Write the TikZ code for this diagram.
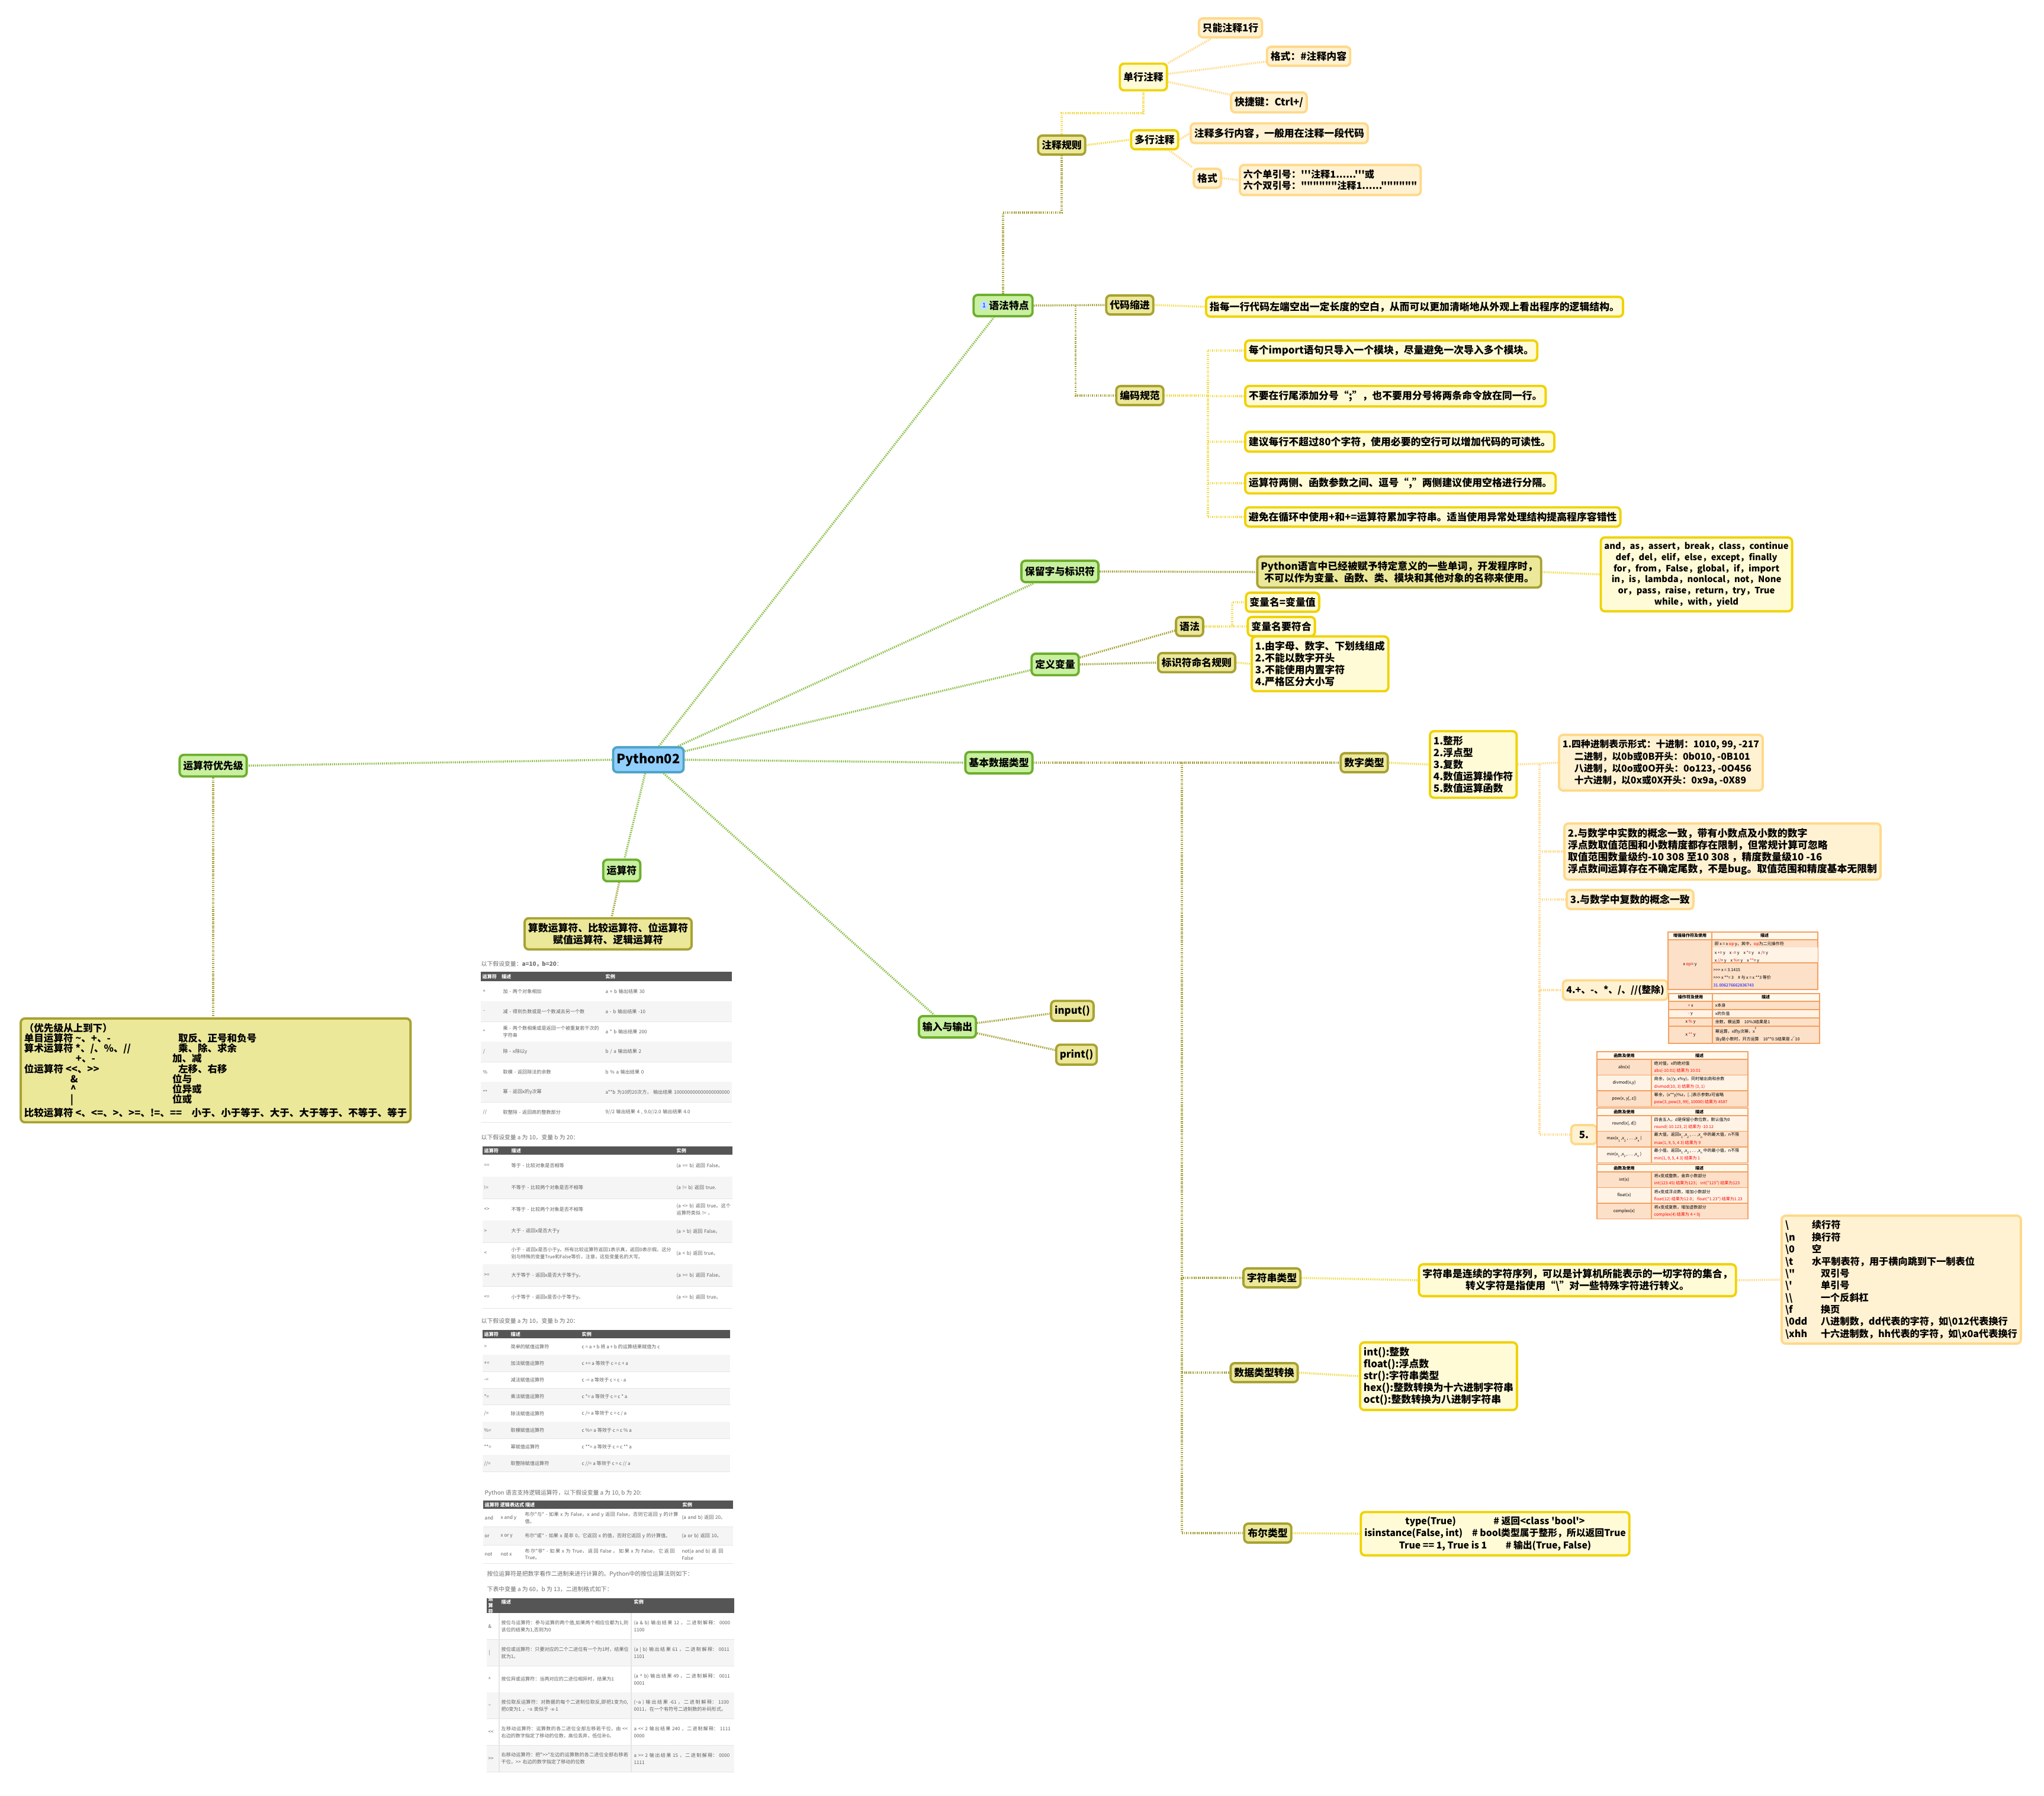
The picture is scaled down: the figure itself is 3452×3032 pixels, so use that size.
\documentclass[tikz,border=0pt]{standalone}
\usepackage{fontspec}
\setmainfont{Noto Sans CJK SC}[Ligatures=TeXOff]
\XeTeXlinebreaklocale "zh"
\XeTeXlinebreakskip=0pt plus 1pt
\usetikzlibrary{calc}

\definecolor{rootfill}{HTML}{90CFFF}
\definecolor{rootline}{HTML}{4FA3C8}
\definecolor{mainfill}{HTML}{C8F0A0}
\definecolor{mainline}{HTML}{6EAE2E}
\definecolor{subfill}{HTML}{EBE89A}
\definecolor{subline}{HTML}{A8A232}
\definecolor{leaffill}{HTML}{FFFBD6}
\definecolor{leafline}{HTML}{F0D200}
\definecolor{notefill}{HTML}{FFF2D2}
\definecolor{noteline}{HTML}{FFD98A}
\definecolor{lnmain}{HTML}{8CC04A}
\definecolor{lnsub}{HTML}{A6A33A}
\definecolor{lnleaf}{HTML}{F2DC50}
\definecolor{lnnote}{HTML}{FFD98A}
\definecolor{headgray}{HTML}{555555}
\definecolor{ogrid}{HTML}{F5A060}
\definecolor{ohead}{HTML}{FFF8EC}
\definecolor{orow}{HTML}{FDE0C8}
\definecolor{orowlight}{HTML}{FFF3E6}

\tikzset{
  base/.style={rounded corners=2pt, line width=1.1pt, inner xsep=0.06cm, inner ysep=0.08cm,
    font=\fontsize{4.8}{5.7}\selectfont\bfseries},
  rootnode/.style={base, draw=rootline, fill=rootfill, font=\fontsize{6.2}{7}\selectfont\bfseries, inner ysep=0.1cm},
  mainnode/.style={base, draw=mainline, fill=mainfill, inner ysep=0.1cm},
  subnode/.style={base, draw=subline, fill=subfill},
  leafnode/.style={base, draw=leafline, fill=leaffill},
  notenode/.style={base, draw=noteline, fill=notefill},
  mainlink/.style={draw=lnmain, line width=1pt, dash pattern=on 0.5pt off 0.5pt},
  sublink/.style={draw=lnsub, line width=1pt, dash pattern=on 0.5pt off 0.5pt},
  leaflink/.style={draw=lnleaf, line width=1pt, dash pattern=on 0.5pt off 0.5pt},
  notelink/.style={draw=lnnote, line width=1pt, dash pattern=on 0.5pt off 0.5pt},
  capnode/.style={inner sep=0pt, anchor=west, text=gray!85!black, font=\fontsize{2.8}{3.4}\selectfont},
  cell/.style={inner sep=0pt, anchor=west, align=left, text=gray!75!black, font=\fontsize{2.3}{3.4}\selectfont},
  headcell/.style={cell, text=white, font=\fontsize{2.3}{3}\selectfont\bfseries},
  ocell/.style={inner sep=0pt, font=\fontsize{2}{2.6}\selectfont},
}

\begin{document}
\begin{tikzpicture}[x=0.01cm, y=-0.01cm]
\useasboundingbox[fill=white] (0,0) rectangle (3452,3032);

% root and first level
\node[rootnode] (py) at (1095,1283) {Python02};
\node[mainnode] (prio) at (360,1293) {运算符优先级};
\node[mainnode] (ops) at (1050,1470) {运算符};
\node[mainnode] (syn) at (1694,516) {\hspace{0.2cm}语法特点};
\node[circle, fill=rootfill!60, inner sep=0.6pt, font=\fontsize{3}{3}\selectfont, text=blue] (synicon) at (1662,516) {1};
\node[mainnode] (kw) at (1790,965) {保留字与标识符};
\node[mainnode] (var) at (1782,1122) {定义变量};
\node[mainnode] (basic) at (1687,1288) {基本数据类型};
\node[mainnode] (io) at (1600,1734) {输入与输出};

% operator precedence
\node[subnode, align=left, anchor=north west, font=\fontsize{4.7}{4.9}\selectfont\bfseries] (priobox) at (33,1718) {%
（优先级从上到下）\\
\makebox[2.6cm][l]{单目运算符 \textasciitilde、+、-}取反、正号和负号\\
\makebox[2.6cm][l]{算术运算符 *、/、\%、//}乘、除、求余\\
\makebox[2.5cm][l]{\hspace{0.87cm}+、-}加、减\\
\makebox[2.6cm][l]{位运算符 <<、>>}左移、右移\\
\makebox[2.5cm][l]{\hspace{0.78cm}\&}位与\\
\makebox[2.5cm][l]{\hspace{0.78cm}\textasciicircum}位异或\\
\makebox[2.5cm][l]{\hspace{0.78cm}|}位或\\
比较运算符 <、<=、>、>=、!=、==\quad 小于、小于等于、大于、大于等于、不等于、等于};
\node[subnode, align=center] (opsbox) at (1027,1577) {算数运算符、比较运算符、位运算符\\赋值运算符、逻辑运算符};

% syntax features
\node[subnode] (cmt) at (1793,245) {注释规则};
\node[leafnode, minimum height=0.45cm] (single) at (1931,130) {单行注释};
\node[notenode] (only1) at (2078,47) {只能注释1行};
\node[notenode] (fmt1) at (2210,95) {格式：\#注释内容};
\node[notenode] (key) at (2143,173) {快捷键：Ctrl+/};
\node[leafnode] (multi) at (1950,236) {多行注释};
\node[notenode, anchor=west] (multitxt) at (2009,225) {注释多行内容，一般用在注释一段代码};
\node[notenode] (fmt2) at (2039,301) {格式};
\node[notenode, align=left, anchor=west, font=\fontsize{4.6}{5.5}\selectfont\bfseries] (quotes) at (2092,304) {六个单引号：'''注释1......'''或\\六个双引号：""""""注释1......""""""};
\node[subnode] (indent) at (1908,515) {代码缩进};
\node[leafnode, anchor=west] (indenttxt) at (2035,518) {指每一行代码左端空出一定长度的空白，从而可以更加清晰地从外观上看出程序的逻辑结构。};
\node[subnode] (style) at (1925,668) {编码规范};
\node[leafnode, anchor=west] (r1) at (2101,592) {每个import语句只导入一个模块，尽量避免一次导入多个模块。};
\node[leafnode, anchor=west] (r2) at (2101,669) {不要在行尾添加分号“;”，也不要用分号将两条命令放在同一行。};
\node[leafnode, anchor=west] (r3) at (2101,746) {建议每行不超过80个字符，使用必要的空行可以增加代码的可读性。};
\node[leafnode, anchor=west] (r4) at (2101,816) {运算符两侧、函数参数之间、逗号“,”两侧建议使用空格进行分隔。};
\node[leafnode, anchor=west] (r5) at (2101,873) {避免在循环中使用+和+=运算符累加字符串。适当使用异常处理结构提高程序容错性};

% keywords and variables
\node[subnode, align=center] (kwdef) at (2363,966) {Python语言中已经被赋予特定意义的一些单词，开发程序时，\\不可以作为变量、函数、类、模块和其他对象的名称来使用。};
\node[leafnode, align=center, font=\fontsize{4.2}{5.3}\selectfont\bfseries] (kwlist) at (2865,970) {and，as，assert，break，class，continue\\def，del，elif，else，except，finally\\for，from，False，global，if，import\\in，is，lambda，nonlocal，not，None\\or，pass，raise，return，try，True\\while，with，yield};
\node[subnode] (gram) at (2009,1058) {语法};
\node[leafnode] (vv) at (2166,1017) {变量名=变量值};
\node[leafnode] (vname) at (2164,1058) {变量名要符合};
\node[subnode] (idrule) at (2021,1119) {标识符命名规则};
\node[leafnode, align=left, anchor=west, minimum width=2.27cm, minimum height=0.82cm] (idlist) at (2112,1121) {1.由字母、数字、下划线组成\\2.不能以数字开头\\3.不能使用内置字符\\4.严格区分大小写};

% basic data types
\node[subnode] (num) at (2304,1288) {数字类型};
\node[leafnode, align=left, anchor=west, minimum width=1.46cm] (numlist) at (2413,1291) {1.整形\\2.浮点型\\3.复数\\4.数值运算操作符\\5.数值运算函数};
\node[notenode, align=left, anchor=west, minimum height=0.94cm, font=\fontsize{4.5}{5.7}\selectfont\bfseries] (n1) at (2631,1288) {1.四种进制表示形式：十进制：1010, 99, -217\\\hspace{0.2cm}二进制，以0b或0B开头：0b010, -0B101\\\hspace{0.2cm}八进制，以0o或0O开头：0o123, -0O456\\\hspace{0.2cm}十六进制，以0x或0X开头：0x9a, -0X89};
\node[notenode, align=left, anchor=west] (n2) at (2640,1438) {2.与数学中实数的概念一致，带有小数点及小数的数字\\浮点数取值范围和小数精度都存在限制，但常规计算可忽略\\取值范围数量级约-10 308 至10 308 ，精度数量级10 -16\\浮点数间运算存在不确定尾数，不是bug。取值范围和精度基本无限制};
\node[notenode, anchor=west] (n3) at (2644,1519) {3.与数学中复数的概念一致};
\node[notenode, minimum height=0.32cm, font=\fontsize{4.5}{5.7}\selectfont\bfseries] (n4) at (2728,1672) {4.+、-、*、/、//(整除)};
\node[notenode, minimum width=0.43cm, minimum height=0.32cm] (n5) at (2675,1916) {5.};
\node[subnode] (str) at (2148,2158) {字符串类型};
\node[leafnode, align=center] (strtxt) at (2664,2162) {字符串是连续的字符序列，可以是计算机所能表示的一切字符的集合，\\转义字符是指使用“\textbackslash”对一些特殊字符进行转义。};
\node[notenode, align=left, anchor=west, font=\fontsize{4.6}{4.6}\selectfont\bfseries, minimum height=1.87cm] (esc) at (3007,2161) {%
\makebox[0.45cm][l]{\textbackslash}续行符\\
\makebox[0.45cm][l]{\textbackslash n}换行符\\
\makebox[0.45cm][l]{\textbackslash 0}空\\
\makebox[0.45cm][l]{\textbackslash t}水平制表符，用于横向跳到下一制表位\\
\makebox[0.6cm][l]{\textbackslash "}双引号\\
\makebox[0.6cm][l]{\textbackslash '}单引号\\
\makebox[0.6cm][l]{\textbackslash\textbackslash}一个反斜杠\\
\makebox[0.6cm][l]{\textbackslash f}换页\\
\makebox[0.6cm][l]{\textbackslash 0dd}八进制数，dd代表的字符，如\textbackslash 012代表换行\\
\makebox[0.6cm][l]{\textbackslash xhh}十六进制数，hh代表的字符，如\textbackslash x0a代表换行};
\node[subnode] (conv) at (2135,2318) {数据类型转换};
\node[leafnode, align=left, anchor=west, minimum width=2.53cm] (convlist) at (2295,2324) {int():整数\\float():浮点数\\str():字符串类型\\hex():整数转换为十六进制字符串\\oct():整数转换为八进制字符串};
\node[subnode] (bool) at (2141,2589) {布尔类型};
\node[leafnode, align=center, font=\fontsize{4.5}{5.7}\selectfont\bfseries] (booltxt) at (2525,2590) {type(True)\qquad\qquad \# 返回<class 'bool'>\\isinstance(False, int)\quad \# bool类型属于整形，所以返回True\\True == 1, True is 1\qquad \# 输出(True, False)};

% input and output
\node[subnode] (inp) at (1811,1707) {input()};
\node[subnode] (prt) at (1818,1781) {print()};

% connectors
\draw[mainlink] (py.west) -- (prio.east);
\draw[mainlink] (py) -- (syn);
\draw[mainlink] (py) -- (kw);
\draw[mainlink] (py) -- (var);
\draw[mainlink] (py.east) -- (basic.west);
\draw[mainlink] (py) -- (ops);
\draw[mainlink] (py) -- (io);
\draw[sublink] (prio) -- (prio |- priobox.north);
\draw[sublink] (ops) -- (opsbox);

\draw[sublink] (syn.north) -- ++(0,-137) -| (cmt.south);
\draw[leaflink] (cmt.north) -- ++(0,-36) -| (single.south);
\draw[notelink] (single) -- (only1);
\draw[notelink] (single) -- (fmt1);
\draw[notelink] (single) -- (key);
\draw[leaflink] (cmt.east) -- (multi.west);
\draw[notelink] (multi.east) -- (multitxt.west);
\draw[notelink] (multi) -- (fmt2);
\draw[notelink] (fmt2.east) -- (quotes.west);
\draw[sublink] (syn.east) -- (indent.west);
\draw[leaflink] (indent.east) -- (indenttxt.west);
\draw[sublink] ($(syn.east)+(71,0)$) |- (style.west);
\coordinate (stk) at (2040,668);
\draw[leaflink] (style.east) -- (stk);
\draw[leaflink] (stk |- r1.west) -- (stk |- r5.west);
\foreach \r in {r1,r2,r3,r4,r5}
  \draw[leaflink] (stk |- \r.west) -- (\r.west);

\draw[sublink] (kw.east) -- (kwdef.west);
\draw[leaflink] (kwdef.east) -- (kwlist.west);
\draw[sublink] (var) -- (gram);
\draw[sublink] (var.east) -- (idrule.west);
\draw[leaflink] (idrule.east) -- (idlist.west);
\draw[leaflink] (gram.east) -- (vname.west);
\draw[leaflink] ($(gram.east)+(47,0)$) |- (vv.west);

\draw[sublink] (basic.east) -- (num.west);
\coordinate (btk) at (1996,1288);
\foreach \b in {str,conv,bool}
  \draw[sublink] (btk) |- (\b.west);
\draw[leaflink] (num.east) -- (numlist.west);
\coordinate (ntk) at (2600,1291);
\draw[notelink] (numlist.east) -- (n1.west);
\foreach \n in {n2,n3,n4,n5}
  \draw[notelink] (ntk) |- (\n.west);
\draw[leaflink] (str.east) -- (strtxt.west);
\draw[notelink] (strtxt.east) -- (esc.west);
\draw[leaflink] (conv.east) -- (convlist.west);
\draw[leaflink] (bool.east) -- (booltxt.west);
\draw[sublink] (io) -- (inp);
\draw[sublink] (io) -- (prt);

% table: arithmetic operators
\node[capnode] (cap1) at (812,1628) {以下假设变量：\textbf{a=10，b=20}：};
\fill[headgray] (812,1641) rectangle (1236,1657);
\node[headcell] (h1a) at (814,1649) {运算符\quad 描述};
\node[headcell] (h1b) at (1022,1649) {实例};
\foreach \o/\d/\e [count=\i] in {{+}/{加 - 两个对象相加}/{a + b 输出结果 30},
  {-}/{减 - 得到负数或是一个数减去另一个数}/{a - b 输出结果 -10},
  {*}/{乘 - 两个数相乘或是返回一个被重复若干次的字符串}/{a * b 输出结果 200},
  {/}/{除 - x除以y}/{b / a 输出结果 2},
  {\%}/{取模 - 返回除法的余数}/{b \% a 输出结果 0},
  {**}/{幂 - 返回x的y次幂}/{a**b 为10的20次方， 输出结果 100000000000000000000},
  {//}/{取整除 - 返回商的整数部分}/{9//2 输出结果 4 , 9.0//2.0 输出结果 4.0}} {
  \pgfmathsetmacro\yy{1657+(\i-0.5)*34}
  \ifodd\i\else\fill[gray!8] (812,\yy-17) rectangle (1236,\yy+17);\fi
  \draw[gray!20, line width=0.3pt] (812,\yy+17) -- (1236,\yy+17);
  \node[cell] (t1o\i) at (815,\yy) {\o};
  \node[cell, text width=1.62cm] (t1d\i) at (849,\yy) {\d};
  \node[cell, text width=2.1cm] (t1e\i) at (1022,\yy) {\e};
}

% table: comparison operators
\node[capnode] (cap2) at (812,1921) {以下假设变量 a 为 10，变量 b 为 20：};
\fill[headgray] (815,1936) rectangle (1237,1950);
\node[headcell] (h2a) at (817,1943) {运算符};
\node[headcell] (h2b) at (863,1943) {描述};
\node[headcell] (h2c) at (1142,1943) {实例};
\foreach \o/\d/\e [count=\i] in {{==}/{等于 - 比较对象是否相等}/{(a == b) 返回 False。},
  {!=}/{不等于 - 比较两个对象是否不相等}/{(a != b) 返回 true.},
  {<>}/{不等于 - 比较两个对象是否不相等}/{(a <> b) 返回 true。这个运算符类似 != 。},
  {>}/{大于 - 返回x是否大于y}/{(a > b) 返回 False。},
  {<}/{小于 - 返回x是否小于y。所有比较运算符返回1表示真，返回0表示假。这分别与特殊的变量True和False等价。注意，这些变量名的大写。}/{(a < b) 返回 true。},
  {>=}/{大于等于 - 返回x是否大于等于y。}/{(a >= b) 返回 False。},
  {<=}/{小于等于 - 返回x是否小于等于y。}/{(a <= b) 返回 true。}} {
  \pgfmathsetmacro\yy{1950+(\i-0.5)*37}
  \ifodd\i\else\fill[gray!8] (815,\yy-18.5) rectangle (1237,\yy+18.5);\fi
  \draw[gray!20, line width=0.3pt] (815,\yy+18.5) -- (1237,\yy+18.5);
  \node[cell] (t2o\i) at (817,\yy) {\o};
  \node[cell, text width=2.7cm] (t2d\i) at (863,\yy) {\d};
  \node[cell, text width=0.92cm] (t2e\i) at (1142,\yy) {\e};
}

% table: assignment operators
\node[capnode] (cap3) at (812,2231) {以下假设变量 a 为 10，变量 b 为 20：};
\fill[headgray] (815,2246) rectangle (1233,2260);
\node[headcell] (h3a) at (817,2253) {运算符};
\node[headcell] (h3b) at (862,2253) {描述};
\node[headcell] (h3c) at (982,2253) {实例};
\foreach \o/\d/\e [count=\i] in {{=}/{简单的赋值运算符}/{c = a + b 将 a + b 的运算结果赋值为 c},
  {+=}/{加法赋值运算符}/{c += a 等效于 c = c + a},
  {-=}/{减法赋值运算符}/{c -= a 等效于 c = c - a},
  {*=}/{乘法赋值运算符}/{c *= a 等效于 c = c * a},
  {/=}/{除法赋值运算符}/{c /= a 等效于 c = c / a},
  {\%=}/{取模赋值运算符}/{c \%= a 等效于 c = c \% a},
  {**=}/{幂赋值运算符}/{c **= a 等效于 c = c ** a},
  {//=}/{取整除赋值运算符}/{c //= a 等效于 c = c // a}} {
  \pgfmathsetmacro\yy{2260+(\i-0.5)*28.2}
  \ifodd\i\else\fill[gray!8] (815,\yy-14.1) rectangle (1233,\yy+14.1);\fi
  \draw[gray!20, line width=0.3pt] (815,\yy+14.1) -- (1233,\yy+14.1);
  \node[cell] (t3o\i) at (817,\yy) {\o};
  \node[cell] (t3d\i) at (862,\yy) {\d};
  \node[cell] (t3e\i) at (982,\yy) {\e};
}

% table: logical operators
\node[capnode] (cap4) at (818,2521) {Python 语言支持逻辑运算符，以下假设变量 a 为 10, b 为 20:};
\fill[headgray] (816,2534) rectangle (1238,2548);
\node[headcell] (h4a) at (818,2541) {运算符\ 逻辑表达式\ 描述};
\node[headcell] (h4b) at (1152,2541) {实例};
\foreach \o/\x/\d/\e [count=\i] in {{and}/{x and y}/{布尔"与" - 如果 x 为 False，x and y 返回 False，否则它返回 y 的计算值。}/{(a and b) 返回 20。},
  {or}/{x or y}/{布尔"或" - 如果 x 是非 0，它返回 x 的值，否则它返回 y 的计算值。}/{(a or b) 返回 10。},
  {not}/{not x}/{布尔"非" - 如果 x 为 True，返回 False 。如果 x 为 False，它返回 True。}/{not(a and b) 返回 False}} {
  \pgfmathsetmacro\yy{2548+(\i-0.5)*30.7}
  \ifodd\i\else\fill[gray!8] (816,\yy-15.3) rectangle (1238,\yy+15.3);\fi
  \draw[gray!20, line width=0.3pt] (816,\yy+15.3) -- (1238,\yy+15.3);
  \node[cell] (t4o\i) at (818,\yy) {\o};
  \node[cell] (t4x\i) at (845,\yy) {\x};
  \node[cell, text width=2.6cm] (t4d\i) at (886,\yy) {\d};
  \node[cell, text width=0.85cm] (t4e\i) at (1151,\yy) {\e};
}

% table: bitwise operators
\node[capnode] (cap5a) at (822,2658) {按位运算符是把数字看作二进制来进行计算的。Python中的按位运算法则如下：};
\node[capnode] (cap5b) at (822,2684) {下表中变量 a 为 60，b 为 13，二进制格式如下：};
\fill[headgray] (822,2699) rectangle (1240,2724);
\node[headcell, text width=0.12cm] (h5a) at (824,2711) {运算符};
\node[headcell] (h5b) at (846,2705) {描述};
\node[headcell] (h5c) at (1070,2705) {实例};
\foreach \o/\d/\e [count=\i] in {{\&}/{按位与运算符：参与运算的两个值,如果两个相应位都为1,则该位的结果为1,否则为0}/{(a \& b) 输出结果 12 ，二进制解释： 0000 1100},
  {|}/{按位或运算符：只要对应的二个二进位有一个为1时，结果位就为1。}/{(a | b) 输出结果 61 ，二进制解释： 0011 1101},
  {\textasciicircum}/{按位异或运算符：当两对应的二进位相异时，结果为1}/{(a \textasciicircum\ b) 输出结果 49 ，二进制解释： 0011 0001},
  {\textasciitilde}/{按位取反运算符：对数据的每个二进制位取反,即把1变为0,把0变为1 。\textasciitilde x 类似于 -x-1}/{(\textasciitilde a ) 输出结果 -61 ，二进制解释： 1100 0011，在一个有符号二进制数的补码形式。},
  {<<}/{左移动运算符：运算数的各二进位全部左移若干位，由 << 右边的数字指定了移动的位数，高位丢弃，低位补0。}/{a << 2 输出结果 240 ，二进制解释： 1111 0000},
  {>>}/{右移动运算符：把">>"左边的运算数的各二进位全部右移若干位，>> 右边的数字指定了移动的位数}/{a >> 2 输出结果 15 ，二进制解释： 0000 1111}} {
  \pgfmathsetmacro\yy{2724+(\i-0.5)*44.7}
  \ifodd\i\else\fill[gray!8] (822,\yy-22.3) rectangle (1240,\yy+22.3);\fi
  \draw[gray!20, line width=0.3pt] (822,\yy+22.3) -- (1240,\yy+22.3);
  \draw[gray!20, line width=0.3pt] (843,\yy-22.3) -- (843,\yy+22.3) (1066,\yy-22.3) -- (1066,\yy+22.3);
  \node[cell] (t5o\i) at (824,\yy) {\o};
  \node[cell, text width=2.15cm] (t5d\i) at (846,\yy) {\d};
  \node[cell, text width=1.68cm] (t5e\i) at (1070,\yy) {\e};
}

% tables beside 4.
\draw[ogrid, line width=0.5pt, fill=ohead] (2817,1574) rectangle (3070,1587);
\draw[ogrid, line width=0.5pt, fill=orow] (2817,1587) rectangle (3070,1671);
\fill[orowlight] (2891,1600) rectangle (3070,1626);
\draw[ogrid, line width=0.5pt] (2891,1574) -- (2891,1671) (2891,1626) -- (3070,1626);
\node[ocell, font=\fontsize{2}{2.6}\selectfont\bfseries] (oa1) at (2854,1580) {增强操作符及使用};
\node[ocell, font=\fontsize{2}{2.6}\selectfont\bfseries] (oa2) at (2980,1580) {描述};
\node[ocell] (oa3) at (2854,1629) {x \textcolor{red}{op}= y};
\node[ocell, anchor=west] (oa4) at (2895,1594) {即 x = x \textcolor{red}{op} y，其中，\textcolor{red}{op}为二元操作符};
\node[ocell, anchor=west] (oa5) at (2895,1609) {x \textcolor{red}{+}= y\quad x \textcolor{red}{-}= y\quad x \textcolor{red}{*}= y\quad x \textcolor{red}{/}= y};
\node[ocell, anchor=west] (oa6) at (2895,1622) {x \textcolor{red}{//}= y\quad x \textcolor{red}{\%}= y\quad x \textcolor{red}{**}= y};
\node[ocell, anchor=west] (oa7) at (2893,1638) {>>> x = 3.1415};
\node[ocell, anchor=west] (oa8) at (2893,1651) {>>> x **= 3\quad \# 与 x = x **3 等价};
\node[ocell, anchor=west, text=blue] (oa9) at (2893,1664) {31.006276662836743};
\draw[ogrid, line width=0.5pt, fill=ohead] (2818,1678) rectangle (3073,1691);
\foreach \ya/\yb/\f [count=\i] in {1691/1705/orow, 1705/1719/orowlight, 1719/1733/orow, 1733/1762/orow}
  \draw[ogrid, line width=0.5pt, fill=\f] (2818,\ya) rectangle (3073,\yb);
\draw[ogrid, line width=0.5pt] (2892,1678) -- (2892,1762);
\node[ocell, font=\fontsize{2}{2.6}\selectfont\bfseries] (ob1) at (2855,1684) {操作符及使用};
\node[ocell, font=\fontsize{2}{2.6}\selectfont\bfseries] (ob2) at (2982,1684) {描述};
\node[ocell] (ob3) at (2855,1698) {\textcolor{red}{+} x};
\node[ocell, anchor=west] (ob4) at (2896,1698) {x本身};
\node[ocell] (ob5) at (2855,1712) {\textcolor{red}{-} y};
\node[ocell, anchor=west] (ob6) at (2896,1712) {x的负值};
\node[ocell] (ob7) at (2855,1726) {x \textcolor{red}{\%} y};
\node[ocell, anchor=west] (ob8) at (2896,1726) {余数，模运算\quad 10\%3结果是1};
\node[ocell] (ob9) at (2855,1747) {x \textcolor{red}{**} y};
\node[ocell, anchor=west] (ob10) at (2896,1740) {幂运算，x的y次幂，x\textsuperscript{y}};
\node[ocell, anchor=west] (ob11) at (2896,1755) {当y是小数时，开方运算\quad 10**0.5结果是 √10};

% tables beside 5.
\foreach \ty in {1776,1871,1966} {
  \draw[ogrid, line width=0.5pt, fill=ohead] (2697,\ty) rectangle (2952,\ty+13);
  \node[ocell, font=\fontsize{2}{2.6}\selectfont\bfseries] at (2743,\ty+6.5) {函数及使用};
  \node[ocell, font=\fontsize{2}{2.6}\selectfont\bfseries] at (2870,\ty+6.5) {描述};
}
\foreach \f/\d/\e [count=\i from 0] in {{abs(x)}/{绝对值，x的绝对值}/{abs(-10.01) 结果为 10.01},
  {divmod(x,y)}/{商余，(x//y, x\%y)，同时输出商和余数}/{divmod(10, 3) 结果为 (3, 1)},
  {pow(x, y[, z])}/{幂余，(x**y)\%z，[..]表示参数z可省略}/{pow(3, pow(3, 99), 10000) 结果为 4587},
  {round(x[, d])}/{四舍五入，d是保留小数位数，默认值为0}/{round(-10.123, 2) 结果为 -10.12},
  {max(x\textsubscript{1},x\textsubscript{2}, … ,x\textsubscript{n})}/{最大值，返回x\textsubscript{1},x\textsubscript{2}, … ,x\textsubscript{n}中的最大值，n不限}/{max(1, 9, 5, 4 3) 结果为 9},
  {min(x\textsubscript{1},x\textsubscript{2}, … ,x\textsubscript{n})}/{最小值，返回x\textsubscript{1},x\textsubscript{2}, … ,x\textsubscript{n}中的最小值，n不限}/{min(1, 9, 5, 4 3) 结果为 1},
  {int(x)}/{将x变成整数，舍弃小数部分}/{int(123.45) 结果为123； int("123") 结果为123},
  {float(x)}/{将x变成浮点数，增加小数部分}/{float(12) 结果为12.0； float("1.23") 结果为1.23},
  {complex(x)}/{将x变成复数，增加虚数部分}/{complex(4) 结果为 4 + 0j}} {
  \pgfmathtruncatemacro\tb{int(\i/3)}
  \pgfmathsetmacro\yy{1776+\tb*95+13+mod(\i,3)*26.5}
  \ifodd\i\def\rowfill{orowlight}\else\def\rowfill{orow}\fi
  \draw[ogrid, line width=0.5pt, fill=\rowfill] (2697,\yy) rectangle (2952,\yy+26.5);
  \draw[ogrid, line width=0.5pt] (2789,\yy) -- (2789,\yy+26.5);
  \node[ocell] (fn\i) at (2743,\yy+13.2) {\f};
  \node[ocell, anchor=west] (fd\i) at (2793,\yy+7) {\d};
  \node[ocell, anchor=west, text=red] (fe\i) at (2793,\yy+19.5) {\e};
}
\end{tikzpicture}
\end{document}
